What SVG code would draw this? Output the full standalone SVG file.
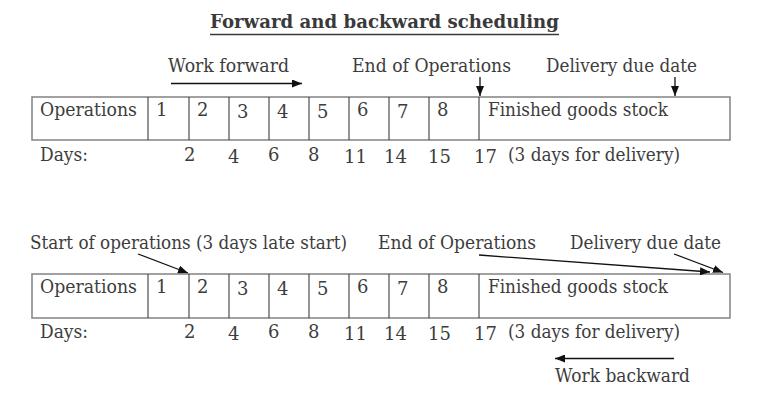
<svg xmlns="http://www.w3.org/2000/svg" width="768" height="415" viewBox="0 0 768 415">
<defs>
<style>
text{font-family:"DejaVu Serif","Liberation Serif",serif;font-size:18px;fill:#3d3d3d}
.title{font-weight:bold;font-size:18px;fill:#3a3a3a}
.box{fill:#fff;stroke:#8a8a8a;stroke-width:1.6}
.div{stroke:#3d3d3d;stroke-width:1.1}
.arr{stroke:#111;stroke-width:1.3;fill:none;marker-end:url(#ah)}
</style>
<marker id="ah" viewBox="0 0 10 8" refX="10" refY="4" markerWidth="10" markerHeight="8" markerUnits="userSpaceOnUse" orient="auto">
<path d="M0,0 L10,4 L0,8 Z" fill="#111"/>
</marker>
</defs>
<rect width="768" height="415" fill="#fff"/>

<g id="title">
<text class="title" x="210" y="28" textLength="349" lengthAdjust="spacingAndGlyphs">Forward and backward scheduling</text>
<line x1="210" y1="34.5" x2="559" y2="34.5" stroke="#3a3a3a" stroke-width="1.3"/>
</g>

<g id="forward-labels">
<text id="work-forward" x="168" y="72" textLength="121" lengthAdjust="spacingAndGlyphs">Work forward</text>
<text id="end-ops-1" x="352" y="72" textLength="159" lengthAdjust="spacingAndGlyphs">End of Operations</text>
<text id="due-1" x="546" y="72" textLength="151" lengthAdjust="spacingAndGlyphs">Delivery due date</text>
</g>

<g id="forward-table">
<rect class="box" x="32" y="97" width="698" height="43"/>
<line class="div" x1="148" y1="97" x2="148" y2="140"/>
<line class="div" x1="189" y1="97" x2="189" y2="140"/>
<line class="div" x1="229" y1="97" x2="229" y2="140"/>
<line class="div" x1="269" y1="97" x2="269" y2="140"/>
<line class="div" x1="309" y1="97" x2="309" y2="140"/>
<line class="div" x1="349" y1="97" x2="349" y2="140"/>
<line class="div" x1="389" y1="97" x2="389" y2="140"/>
<line class="div" x1="429" y1="97" x2="429" y2="140"/>
<line class="div" x1="479" y1="97" x2="479" y2="140"/>
<text x="40" y="116" textLength="97" lengthAdjust="spacingAndGlyphs">Operations</text>
<text x="156" y="116">1</text>
<text x="197" y="116">2</text>
<text x="237" y="118">3</text>
<text x="277" y="118">4</text>
<text x="317" y="118">5</text>
<text x="357" y="116">6</text>
<text x="397" y="118">7</text>
<text x="437" y="116">8</text>
<text x="488" y="116" textLength="180" lengthAdjust="spacingAndGlyphs">Finished goods stock</text>
</g>

<g id="forward-days">
<text x="40" y="161" textLength="48" lengthAdjust="spacingAndGlyphs">Days:</text>
<text x="184" y="161">2</text>
<text x="228" y="163">4</text>
<text x="268" y="161">6</text>
<text x="308" y="161">8</text>
<text x="344" y="163">11</text>
<text x="384" y="163">14</text>
<text x="428" y="163">15</text>
<text x="474" y="163">17</text>
<text x="508" y="161" textLength="172" lengthAdjust="spacingAndGlyphs">(3 days for delivery)</text>
</g>

<g id="backward-labels">
<text id="start-ops" x="30" y="249" textLength="317" lengthAdjust="spacingAndGlyphs">Start of operations (3 days late start)</text>
<text id="end-ops-2" x="378" y="249" textLength="158" lengthAdjust="spacingAndGlyphs">End of Operations</text>
<text id="due-2" x="570" y="249" textLength="151" lengthAdjust="spacingAndGlyphs">Delivery due date</text>
<text id="work-backward" x="555" y="382" textLength="135" lengthAdjust="spacingAndGlyphs">Work backward</text>
</g>

<g id="backward-table">
<rect class="box" x="32" y="274" width="698" height="44"/>
<line class="div" x1="148" y1="274" x2="148" y2="318"/>
<line class="div" x1="189" y1="274" x2="189" y2="318"/>
<line class="div" x1="229" y1="274" x2="229" y2="318"/>
<line class="div" x1="269" y1="274" x2="269" y2="318"/>
<line class="div" x1="309" y1="274" x2="309" y2="318"/>
<line class="div" x1="349" y1="274" x2="349" y2="318"/>
<line class="div" x1="389" y1="274" x2="389" y2="318"/>
<line class="div" x1="429" y1="274" x2="429" y2="318"/>
<line class="div" x1="479" y1="274" x2="479" y2="318"/>
<text x="40" y="293" textLength="97" lengthAdjust="spacingAndGlyphs">Operations</text>
<text x="156" y="293">1</text>
<text x="197" y="293">2</text>
<text x="237" y="295">3</text>
<text x="277" y="295">4</text>
<text x="317" y="295">5</text>
<text x="357" y="293">6</text>
<text x="397" y="295">7</text>
<text x="437" y="293">8</text>
<text x="488" y="293" textLength="180" lengthAdjust="spacingAndGlyphs">Finished goods stock</text>
</g>

<g id="backward-days">
<text x="40" y="338" textLength="48" lengthAdjust="spacingAndGlyphs">Days:</text>
<text x="184" y="338">2</text>
<text x="228" y="340">4</text>
<text x="268" y="338">6</text>
<text x="308" y="338">8</text>
<text x="344" y="340">11</text>
<text x="384" y="340">14</text>
<text x="428" y="340">15</text>
<text x="474" y="340">17</text>
<text x="508" y="338" textLength="172" lengthAdjust="spacingAndGlyphs">(3 days for delivery)</text>
</g>

<g id="connectors">
<line class="arr" x1="171" y1="83.5" x2="302" y2="83.5"/>
<line class="arr" x1="480" y1="77" x2="480" y2="96"/>
<line class="arr" x1="675" y1="77" x2="675" y2="96"/>
<line class="arr" x1="138" y1="254" x2="188" y2="273"/>
<line class="arr" x1="479" y1="255" x2="710" y2="272"/>
<line class="arr" x1="674" y1="254" x2="723" y2="272.5"/>
<line class="arr" x1="674" y1="358.5" x2="555" y2="358.5"/>
</g>
</svg>
